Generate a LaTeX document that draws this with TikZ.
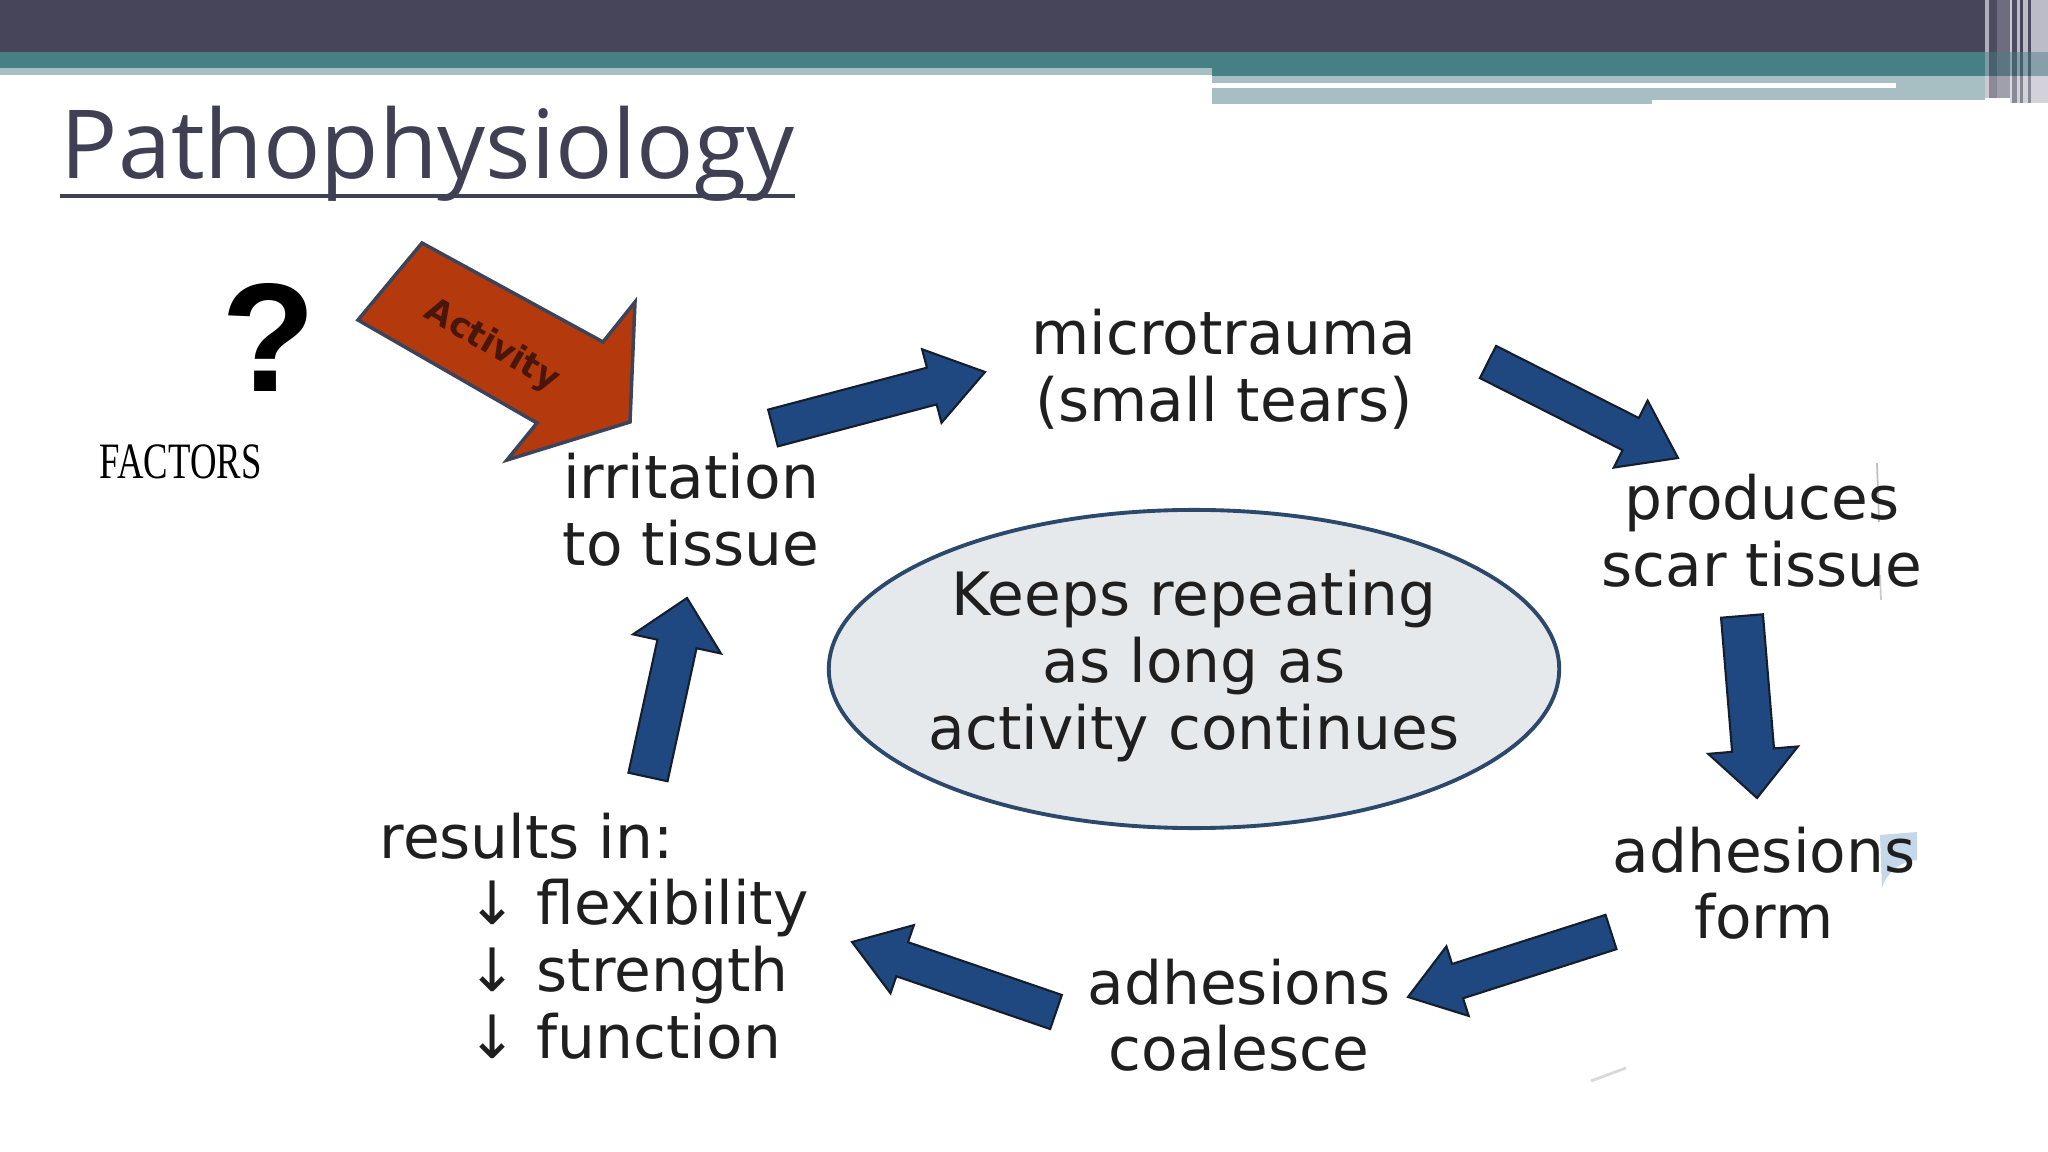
\documentclass[tikz,border=0pt]{standalone}
\usepackage{fontspec}
\setmainfont{DejaVu Sans}
\newfontfamily\titlefont{Open Sans}
\newfontfamily\qfont{Liberation Sans}
\newfontfamily\factfont{Liberation Serif}
\newfontfamily\dvsans{DejaVu Sans}
\usetikzlibrary{calc,shapes.geometric}

\definecolor{bardark}{RGB}{70,69,90}
\definecolor{barteal}{RGB}{70,127,132}
\definecolor{barlight}{RGB}{167,191,195}
\definecolor{titlecol}{RGB}{64,63,84}
\definecolor{arrowblue}{RGB}{31,72,128}
\definecolor{arrowedge}{RGB}{20,30,45}
\definecolor{actfill}{RGB}{180,58,14}
\definecolor{actedge}{RGB}{60,68,90}
\definecolor{acttextcol}{RGB}{75,22,10}
\definecolor{ellfill}{RGB}{229,233,236}
\definecolor{elledge}{RGB}{44,72,106}
\definecolor{blobblue}{RGB}{196,216,234}
\definecolor{stripeA}{RGB}{176,175,189}
\definecolor{stripeB}{RGB}{76,75,96}
\definecolor{stripeC}{RGB}{110,109,128}
\definecolor{stripeD}{RGB}{200,200,210}
\definecolor{stripeE}{RGB}{188,187,200}

\newcommand{\blkarrow}[6]{%
  \path ($(#2)!#5!(#1)$) coordinate (ba);
  \filldraw[#6] ($(#1)!#3!90:(#2)$) -- ($(ba)!#3!90:(#2)$) -- ($(ba)!#4!90:(#2)$) -- (#2)
    -- ($(ba)!#4!-90:(#2)$) -- ($(ba)!#3!-90:(#2)$) -- ($(#1)!#3!-90:(#2)$) -- cycle;
}

\begin{document}
\begin{tikzpicture}[x=0.01cm,y=-0.01cm,
  lbl/.style={font=\fontsize{17}{19}\selectfont, inner sep=0pt, anchor=base, text=black!88},
  bluearrow/.style={fill=arrowblue, draw=arrowedge, line width=0.6pt, line join=miter},
  redarrow/.style={fill=actfill, draw=actedge, line width=1pt, line join=miter}]

\useasboundingbox (0,0) rectangle (2048,1152);
\fill[white] (0,0) rectangle (2048,1152);

% top bar
\fill[bardark] (0,0) rectangle (2048,52);
\fill[barteal] (0,52) rectangle (1985,68);
\fill[barteal] (1212,68) rectangle (1985,76);
\fill[barlight] (0,68) rectangle (1212,75);
\fill[barlight] (1212,76) rectangle (1985,100);
\fill[barlight] (1212,100) rectangle (1652,104);
\fill[white] (1212,83) rectangle (1896,88);
% right edge stripes
\fill[stripeA] (1985,0) rectangle (1989,98);
\fill[stripeB] (1989,0) rectangle (1997,98);
\fill[stripeC] (1997,0) rectangle (2010,98);
\fill[stripeD] (2010,0) rectangle (2012,103);
\fill[stripeB] (2012,0) rectangle (2017,103);
\fill[stripeE] (2017,0) rectangle (2020,103);
\fill[bardark] (2020,0) rectangle (2023,103);
\fill[stripeE] (2023,0) rectangle (2028,103);
\fill[stripeB] (2028,0) rectangle (2031,103);
\fill[stripeE] (2031,0) rectangle (2048,103);
\fill[barteal, opacity=0.45] (1985,52) rectangle (2048,76);
\fill[white, opacity=0.35] (1985,76) rectangle (2048,103);

% title
\node[anchor=base west, inner sep=0pt, text=titlecol,
      font=\titlefont\fontsize{27.1}{31}\selectfont] (title) at (60,179) {Pathophysiology};
\draw[titlecol, line width=0.9pt] ([yshift=-0.17cm]title.base west) -- ([yshift=-0.17cm]title.base east);

% question mark and factors
\node[anchor=base, inner sep=0pt, font=\qfont\bfseries\fontsize{44}{48}\selectfont] (q) at (269,392) {?};
\node[anchor=base west, inner sep=0pt, font=\factfont\fontsize{14.5}{16}\selectfont] (factors) at (99,479) {\scalebox{0.72}[1]{FACTORS}};

% faint artifacts
\fill[blobblue] (1880,835) -- (1917,832) -- (1917,860) .. controls (1898,862) and (1886,874) .. (1882,888) -- cycle;
\draw[black!25, line width=0.5pt] (1877,463) -- (1879,522);
\draw[black!20, line width=0.5pt] (1880,575) -- (1881,600);
\draw[black!15, line width=0.8pt] (1591,1081) -- (1626,1068);

% ellipse
\node[ellipse, draw=elledge, fill=ellfill, line width=1.1pt, minimum width=7.3cm, minimum height=3.18cm,
      inner sep=0pt, font=\fontsize{17}{19}\selectfont, text=black!88] (loop) at (1194,669)
  {\makebox[0pt][c]{\begin{tabular}[t]{@{}c@{}}Keeps repeating\\as long as\\activity continues\end{tabular}}};

% labels
\node[lbl] (irr) at (691,499) {\begin{tabular}[t]{@{}c@{}}irritation\\to tissue\end{tabular}};
\node[lbl] (micro) at (1224,355) {\begin{tabular}[t]{@{}c@{}}microtrauma\\(small tears)\end{tabular}};
\node[lbl] (prod) at (1762,520) {\begin{tabular}[t]{@{}c@{}}produces\\scar tissue\end{tabular}};
\node[lbl] (adhf) at (1764,872) {\begin{tabular}[t]{@{}c@{}}adhesions\\form\end{tabular}};
\node[lbl] (adhc) at (1239,1004) {\begin{tabular}[t]{@{}c@{}}adhesions\\coalesce\end{tabular}};
\node[lbl, anchor=base west] (res) at (379,858) {\begin{tabular}[t]{@{}l@{}}results in:\\\hspace*{25pt}↓ flexibility\\\hspace*{25pt}↓ strength\\\hspace*{25pt}↓ function\end{tabular}};

% activity arrow (slightly skewed head, as in the reference)
\coordinate (acttail) at (390,281);
\coordinate (acttip) at (630,422);
\filldraw[redarrow] (422,243) -- (603,342) -- (635,302) -- (acttip) -- (507,460) -- (537,423) -- (358,320) -- cycle;
\node[font=\dvsans\bfseries\fontsize{9.8}{11}\selectfont, text=acttextcol, rotate=-30, inner sep=0pt] (acttext) at (492,346) {Activity};

% cycle arrows
\coordinate (a1s) at (773,428);   \coordinate (a1e) at (985,372);
\coordinate (a2s) at (1488,362);  \coordinate (a2e) at (1678,458);
\coordinate (a3s) at (1742,616);  \coordinate (a3e) at (1757,798);
\coordinate (a4s) at (1611,932);  \coordinate (a4e) at (1408,997);
\coordinate (a5s) at (1056,1012); \coordinate (a5e) at (852,942);
\coordinate (a6s) at (648,777);   \coordinate (a6e) at (687,598);
\blkarrow{a1s}{a1e}{0.19cm}{0.38cm}{0.55cm}{bluearrow}
\blkarrow{a2s}{a2e}{0.18cm}{0.375cm}{0.53cm}{bluearrow}
\blkarrow{a3s}{a3e}{0.21cm}{0.45cm}{0.48cm}{bluearrow}
\blkarrow{a4s}{a4e}{0.18cm}{0.365cm}{0.52cm}{bluearrow}
\blkarrow{a5s}{a5e}{0.18cm}{0.36cm}{0.53cm}{bluearrow}
\blkarrow{a6s}{a6e}{0.20cm}{0.45cm}{0.47cm}{bluearrow}

\end{tikzpicture}
\end{document}
